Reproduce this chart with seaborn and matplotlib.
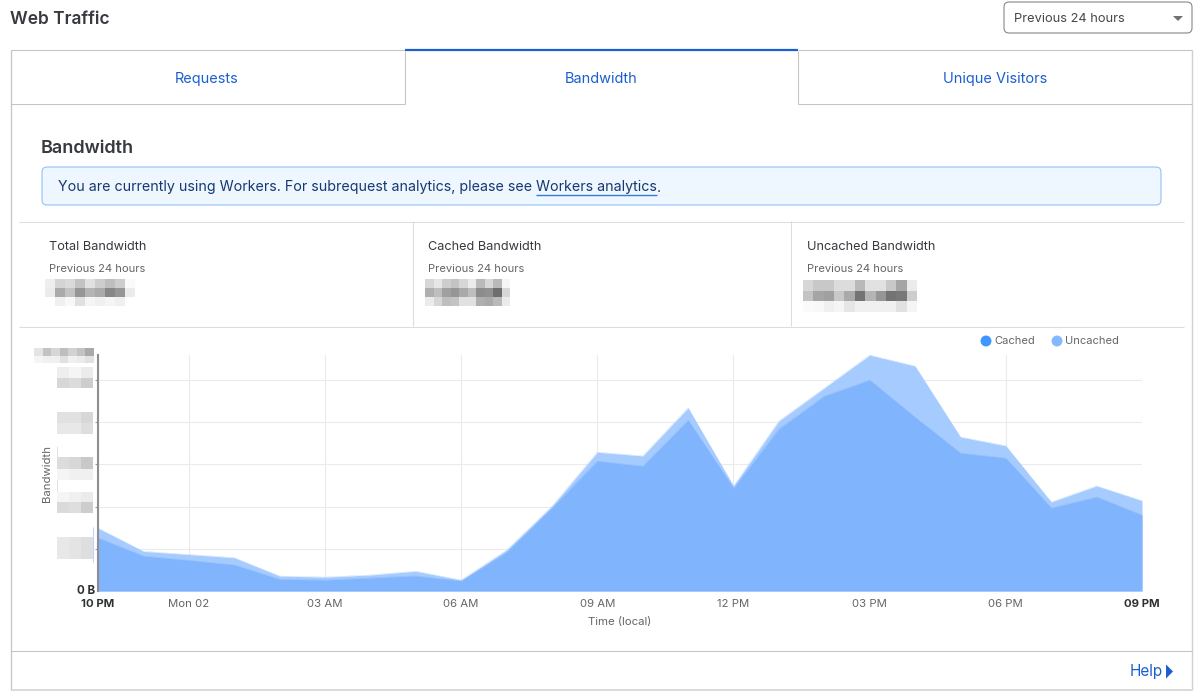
import numpy as np
import pandas as pd
import matplotlib.pyplot as plt
from matplotlib.patches import FancyBboxPatch, Polygon
import seaborn as sns

W, H = 1200, 697

hours = list(range(24))
total = [1.49, 0.94, 0.865, 0.79, 0.355, 0.33, 0.38, 0.47, 0.26, 0.97, 2.01, 3.29,
         3.20, 4.34, 2.49, 4.03, 4.81, 5.59, 5.33, 3.65, 3.44, 2.11, 2.49, 2.14]
cached = [1.26, 0.83, 0.73, 0.62, 0.28, 0.26, 0.31, 0.36, 0.24, 0.92, 1.97, 3.08,
          2.96, 4.05, 2.44, 3.84, 4.62, 5.00, 4.12, 3.27, 3.15, 1.97, 2.23, 1.80]
xtick_hours = [0, 2, 5, 8, 11, 14, 17, 20, 23]
xtick_labels = ["10 PM", "Mon 02", "03 AM", "06 AM", "09 AM", "12 PM", "03 PM", "06 PM", "09 PM"]
ygrid = [1, 2, 3, 4, 5]

tabs = ["Requests", "Bandwidth", "Unique Visitors"]
stats = ["Total Bandwidth", "Cached Bandwidth", "Uncached Bandwidth"]

# Pixelated (redacted) numbers, gray levels
blur_total = [[238, 212, 218, 195, 225, 205, 190, 205, 250],
              [235, 170, 195, 150, 180, 170, 135, 150, 235],
              [255, 240, 248, 225, 245, 240, 245, 240, 255]]
blur_cached = [[215, 230, 205, 195, 215, 235, 185, 215, 185, 245],
               [175, 190, 160, 150, 170, 190, 140, 145, 110, 215],
               [235, 215, 190, 195, 225, 225, 175, 170, 185, 235]]
blur_uncached = [[215, 200, 200, 220, 220, 185, 225, 225, 200, 165, 235],
                 [195, 165, 160, 200, 170, 115, 180, 150, 115, 120, 205],
                 [250, 248, 240, 245, 230, 240, 240, 240, 240, 225, 245]]
blur_ymax = [[228, 195, 215, 190, 210, 195, 170],
             [245, 240, 240, 225, 240, 235, 225]]
blur_y4 = [[238, 245, 235], [215, 220, 205]]
blur_y3 = [[225, 225, 215], [232, 232, 222]]
blur_y2 = [[220, 215, 200], [245, 240, 240]]
blur_y1 = [[245, 240, 235], [218, 222, 205]]
blur_y0 = [[232, 228, 222], [232, 228, 222]]

BLUE = "#1A5FD0"
TEXT = "#36393E"
GRAY = "#62666B"

sns.set_theme(style="white")
plt.rcParams['font.family'] = ['Inter', 'DejaVu Sans']

fig = plt.figure(figsize=(W / 100, H / 100), dpi=100)

# Overlay in pixel coordinates for the page furniture
ui = fig.add_axes([0, 0, 1, 1])
ui.set_xlim(0, W)
ui.set_ylim(H, 0)
ui.axis('off')


def hline(y, x0, x1, color="#C4C4C4", lw=0.75):
    ui.plot([x0, x1], [y, y], color=color, lw=lw, solid_capstyle='butt')


def vline(x, y0, y1, color="#C4C4C4", lw=0.75):
    ui.plot([x, x], [y0, y1], color=color, lw=lw, solid_capstyle='butt')


def label(x, y, s, size, color=TEXT, **kw):
    # va='center' sits a little high for this font, so nudge down
    kw.setdefault('va', 'center')
    return ui.text(x, y + 1.5, s, fontsize=size, color=color, **kw)


def blur_block(rows, x0, x1, y0, y1):
    """Draws a redacted number as a small gray heatmap."""
    ax = fig.add_axes([x0 / W, 1 - y1 / H, (x1 - x0) / W, (y1 - y0) / H])
    sns.heatmap(np.array(rows), cmap="gray", vmin=0, vmax=255, cbar=False,
                xticklabels=False, yticklabels=False, ax=ax)
    ax.axis('off')


# Header
label(10, 18, "Web Traffic", 12.5, fontweight='semibold')
ui.add_patch(FancyBboxPatch((1004, 2), 188, 31, boxstyle="round,pad=0,rounding_size=5",
                            fc="white", ec="#85888C", lw=0.8))
label(1014, 18, "Previous 24 hours", 9.25, color="#44474B")
ui.add_patch(Polygon([[1173, 16], [1183, 16], [1178, 21]], fc="#6E7175", ec="none"))

# Card and tabs
vline(11, 50, 690, "#C8C8C8", 1.0)
vline(1192, 50, 690, "#D0D0D0", 1.0)
hline(690, 11, 1192, "#D3D3D3", 1.2)
hline(50, 11, 405)
hline(50, 798, 1192)
hline(50, 405, 798, BLUE, 1.6)
hline(104, 11, 405)
hline(104, 798, 1192)
vline(405, 51, 104)
vline(798, 51, 104)
hline(651, 11, 1192)
for cx, tab in zip([207, 601, 995], tabs):
    label(cx, 77.5, tab, 10.45, color=BLUE, ha='center')

label(41, 147, "Bandwidth", 13, fontweight='semibold')
ui.add_patch(FancyBboxPatch((42, 167), 1119, 38, boxstyle="round,pad=0,rounding_size=5",
                            fc="#EEF6FF", ec="#92C3F7", lw=0.8))
label(58, 186, "You are currently using Workers. For subrequest analytics, please see",
      10.28, color="#17386F")
label(536, 186, "Workers analytics", 10.28, color="#17386F")
hline(195, 536, 657, "#2F7BE0", 1)
label(657, 186, ".", 10.28, color="#17386F")

# Stat row
hline(221.5, 19, 1184, "#DDDDDD")
hline(326.5, 19, 1184, "#DDDDDD")
vline(412.5, 221, 326, "#DDDDDD")
vline(790.5, 221, 326, "#DDDDDD")
for x, stat in zip([49, 428, 807], stats):
    label(x, 245, stat, 9.15)
    label(x, 267, "Previous 24 hours", 8.05, color=GRAY)

# Legend
ui.scatter([986, 1057], [341, 341], s=62, color=["#3F96FF", "#86B8FF"], linewidths=0)
label(994, 340, "Cached", 8, color=GRAY)
label(1065, 340, "Uncached", 8, color=GRAY)

# Footer
label(1130, 670, "Help", 11, color=BLUE)
ui.add_patch(Polygon([[1166, 664.5], [1173, 671.5], [1166, 678.5]], fc=BLUE, ec="none"))

# Axis titles
label(620, 620, "Time (local)", 8.2, color=GRAY, ha='center')
label(47, 472, "Bandwidth", 8.2, color=GRAY, ha='center', rotation=90)

# Chart
x0, x1, ytop, ybase = 98, 1142, 355, 591
step = 42.2
ax = fig.add_axes([x0 / W, 1 - ybase / H, (x1 - x0) / W, (ybase - ytop) / H])
ax.patch.set_alpha(0)
df = pd.DataFrame({"hour": hours, "total": total, "cached": cached})
sns.lineplot(data=df, x="hour", y="total", color="#A6CBFF", linewidth=0.2, ax=ax, zorder=3)
sns.lineplot(data=df, x="hour", y="cached", color="#80B4FD", linewidth=0.2, ax=ax, zorder=4)
ax.fill_between(df["hour"], df["total"], color="#A6CBFF", lw=0, zorder=3)
ax.fill_between(df["hour"], df["cached"], color="#80B4FD", lw=0, zorder=4)
ax.axhline(0, color="#6FA9FB", lw=1.0, zorder=5)

ax.set_xlim(0, 23)
ax.set_ylim(0, (ybase - ytop) / step)
ax.set_xticks(xtick_hours)
ax.set_xticklabels(xtick_labels)
ax.set_yticks(ygrid)
ax.set_yticklabels([])
ax.set_xlabel("")
ax.set_ylabel("")
ax.grid(True, color="#EBEBEB", lw=0.8, zorder=1)
ax.set_axisbelow(True)
for side in ['top', 'right', 'bottom']:
    ax.spines[side].set_visible(False)
ax.spines['left'].set_color("#8E8E8E")
ax.spines['left'].set_linewidth(1.5)
ax.spines['left'].set_zorder(6)
ax.tick_params(axis='x', length=0, pad=5.5, labelsize=8.2, labelcolor=GRAY)
ax.tick_params(axis='y', left=True, length=2.5, width=0.8, color="#999999")
for tick in (ax.get_xticklabels()[0], ax.get_xticklabels()[-1]):
    tick.set_fontweight('bold')
    tick.set_color("#2E3134")
label(95, 590, "0 B", 8.4, color="#2E3134", ha='right', fontweight='bold')

# Redacted numbers
blur_block(blur_total, 45, 135, 279, 306)
blur_block(blur_cached, 425, 510, 279, 306)
blur_block(blur_uncached, 803, 917, 280, 312)
blur_block(blur_ymax, 34, 94, 348, 363)
blur_block(blur_y4, 57, 93, 367, 388)
blur_block(blur_y3, 57, 93, 412, 434)
blur_block(blur_y2, 57, 93, 457, 480)
blur_block(blur_y1, 57, 93, 492, 513)
blur_block(blur_y0, 57, 93, 537, 559)
vline(92.5, 527, 562, "#B9D6FB", 0.8)
vline(57, 446, 502, "#DDDDDD", 0.6)

fig.savefig("out.png", dpi=100)
